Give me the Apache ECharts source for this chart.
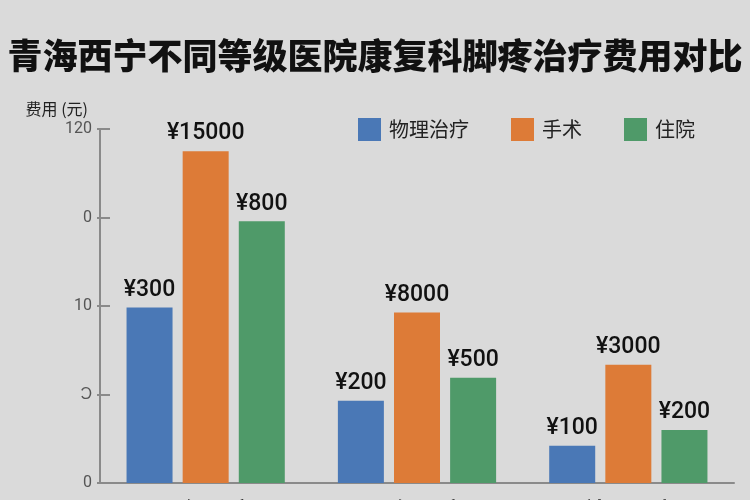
<!DOCTYPE html>
<html>
<head>
<meta charset="utf-8">
<script src="https://cdn.jsdelivr.net/npm/echarts@6/dist/echarts.min.js"></script>
<style>
html,body{margin:0;padding:0;background:#dadada;}
#main{width:750px;height:500px;}
</style>
</head>
<body>
<div id="main"></div>
<script>
const title = '青海西宁不同等级医院康复科脚疼治疗费用对比';
const categories = ['三级医院', '二级医院', '社区医院'];
const seriesNames = ['物理治疗', '手术', '住院'];
// bar heights as drawn on the picture's axis (0-120 scale)
const physioHeights = [59.5, 27.9, 12.6];
const surgeryHeights = [112.5, 57.8, 40.1];
const hospitalHeights = [88.7, 35.7, 18.0];
// value labels printed above the bars
const physioLabels = ['¥300', '¥200', '¥100'];
const surgeryLabels = ['¥15000', '¥8000', '¥3000'];
const hospitalLabels = ['¥800', '¥500', '¥200'];
// tick labels as printed on the y axis (for 0, 30, 60, 90, 120)
const tickValues = [0, 30, 60, 90, 120];
const tickLabels = ['0', 'Ɔ', '10', '0', '120'];
const colors = ['#4a78b6', '#dd7b37', '#4f9a69'];

const chart = echarts.init(document.getElementById('main'), null, {renderer: 'canvas'});
const font = 'Roboto, "Noto Sans CJK SC", sans-serif';
const cjk = '"Noto Sans CJK SC", sans-serif';

function mkSeries(name, heights, labels, color) {
  return {
    name: name,
    type: 'bar',
    barWidth: 46,
    barGap: '22%',
    itemStyle: {color: color},
    label: {
      show: true,
      position: 'top',
      distance: 6,
      color: '#111',
      fontSize: 23,
      fontWeight: 500,
      fontFamily: font,
      formatter: function (p) { return labels[p.dataIndex]; }
    },
    data: heights
  };
}

chart.setOption({
  backgroundColor: '#dadada',
  animation: false,
  color: colors,
  title: {
    text: title,
    left: 'center',
    top: 33,
    textStyle: {fontSize: 35, fontWeight: 900, color: '#111', fontFamily: cjk}
  },
  legend: {
    data: seriesNames,
    left: 353,
    top: 113,
    itemWidth: 23,
    itemHeight: 23,
    itemGap: 42,
    icon: 'rect',
    textStyle: {fontSize: 20, color: '#222', fontFamily: cjk, padding: [0, 0, 0, 3]}
  },
  grid: {left: 100, right: 16, top: 129, bottom: 17, containLabel: false, outerBoundsMode: 'none'},
  xAxis: {
    type: 'category',
    data: categories,
    axisLine: {show: true, lineStyle: {color: '#8a8a8a', width: 2}},
    axisTick: {show: false},
    axisLabel: {margin: 16, fontSize: 22, color: '#222', fontFamily: cjk, fontWeight: 'bold'}
  },
  yAxis: [{
    type: 'value',
    min: 0,
    max: 120,
    interval: 30,
    name: '费用 (元)',
    nameLocation: 'end',
    nameGap: 12,
    nameTextStyle: {fontSize: 16, color: '#222', fontFamily: cjk, align: 'right', padding: [0, 12, 0, 0]},
    axisLine: {show: true, lineStyle: {color: '#8a8a8a', width: 2}},
    axisTick: {show: true, length: 3, lineStyle: {color: '#8a8a8a', width: 2}},
    splitLine: {show: false},
    axisLabel: {
      margin: 8,
      fontSize: 16,
      color: '#555',
      fontFamily: font,
      formatter: function (v) { const i = tickValues.indexOf(v); return i >= 0 ? tickLabels[i] : ''; }
    }
  }, {
    type: 'value',
    position: 'left',
    min: 0,
    max: 120,
    interval: 30,
    axisLine: {show: false},
    axisTick: {show: true, inside: true, length: 10, lineStyle: {color: '#8a8a8a', width: 2}},
    axisLabel: {show: false},
    splitLine: {show: false}
  }],
  series: [
    mkSeries(seriesNames[0], physioHeights, physioLabels, colors[0]),
    mkSeries(seriesNames[1], surgeryHeights, surgeryLabels, colors[1]),
    mkSeries(seriesNames[2], hospitalHeights, hospitalLabels, colors[2])
  ]
});
</script>
</body>
</html>
